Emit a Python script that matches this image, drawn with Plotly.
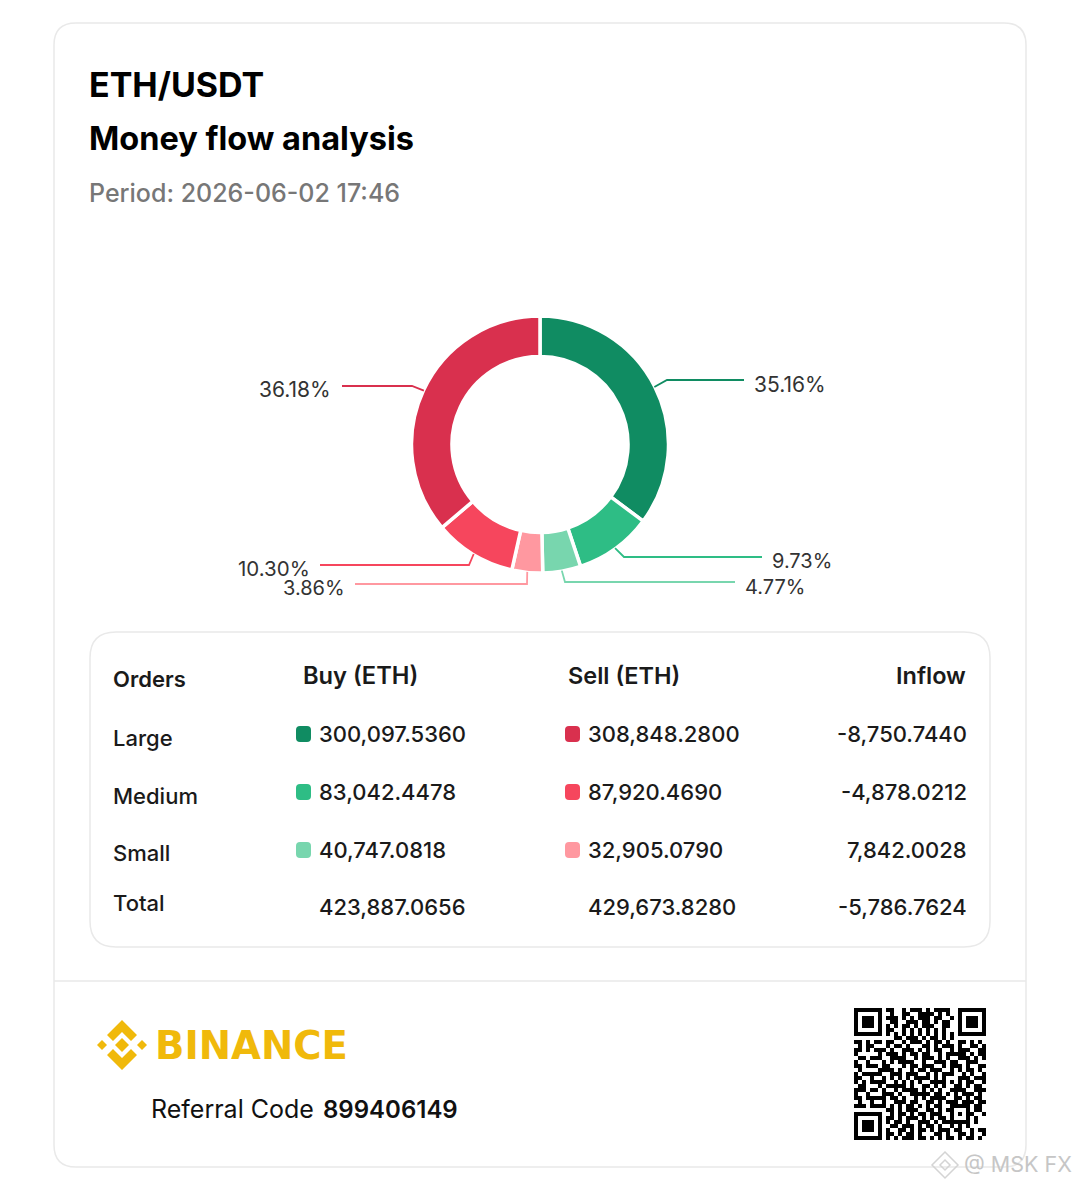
import math
import plotly.graph_objects as go

W, H = 1080, 1190
FONT = 'Inter'

sizes = ['Large', 'Medium', 'Small']
buy_values = [300097.5360, 83042.4478, 40747.0818]
sell_values = [308848.2800, 87920.4690, 32905.0790]
inflow_values = [-8750.7440, -4878.0212, 7842.0028]
buy_total = 423887.0656
sell_total = 429673.8280
inflow_total = -5786.7624

buy_colors = ['#108C62', '#2EBD85', '#78D6AE']
sell_colors = ['#D9304E', '#F6465D', '#FF98A0']

# pie runs clockwise from 12 o'clock
pie_labels = ['Large buy', 'Medium buy', 'Small buy', 'Small sell', 'Medium sell', 'Large sell']
pie_values = buy_values + sell_values[::-1]
pie_colors = buy_colors + sell_colors[::-1]
pie_text = ['35.16%', '9.73%', '4.77%', '3.86%', '10.30%', '36.18%']

# scanned from the picture, 33x33 modules
qr_rows = [
    '#######.##..#.###.#.####..#######',
    '#.....#..#..##..####.#.#..#.....#',
    '#.###.#.###.#.#.###.##..#.#.###.#',
    '#.###.#..##..###.##.#.##..#.###.#',
    '#.###.#.#.#.##.#.###..##..#.###.#',
    '#.....#.##..#.#.#.#.#.#...#.....#',
    '#######.#.#.#.#.#.#.#.#.#.#######',
    '..........##.###.#.##.#.#........',
    '##.#.##.##..#.###.#.##.#..##.#.#.',
    '.#.##...#.##.#...##.#.###.#..##.#',
    '##.#.###.#..###.#.#.##..#.###..##',
    '#.....#.###.#.##.##..#.#####.#.##',
    '.##.###..####..#.###.#.#..###.#.#',
    '#..#...#.#.####..#..###.##..###..',
    '##.###.##...#.##.###..#.###.#..##',
    '.#....####.#..#.##.###..#.#.##.#.',
    '#.#####..###.###..#.#.###..#.#..#',
    '##..#..#.#.#.#.####.#.#...###.###',
    '#.#.####..#.#.#.#..####.#.#.##..#',
    '.##...#.#####.#..##.#.#..##.#.##.',
    '###.##.#..#.####.#.#.#..####..###',
    '#..#...###.#..#####.##.#.#.###.#.',
    '##.#####.##.#..#.#.####..##.#.##.',
    '.#..#..#..###.##..##.#.###.###.##',
    '###.####.#.#.##.#.#.##..#####.##.',
    '........##.#.###..##.#.##...#.##.',
    '#######..#.##.#.##.###..#.#.##..#',
    '#.....#.##.#.###.#.#.##.#...#.#..',
    '#.###.#.#.##.#..###.#.#######.#..',
    '#.###.#..##.###.#.##.#..#.#.#....',
    '#.###.#.#..##.#.##.#.###.##..#.##',
    '#.....#.##.#.##.#...##.#..##.#..#',
    '#######.#.#.###.##.#.#.##.#.##.#.',
]


def fx(px):
    return px / W


def fy(py):
    return 1 - py / H


def round_rect(x0, y0, x1, y1, r):
    pts = [
        f'M {fx(x0 + r)} {fy(y0)}', f'L {fx(x1 - r)} {fy(y0)}',
        f'Q {fx(x1)} {fy(y0)} {fx(x1)} {fy(y0 + r)}', f'L {fx(x1)} {fy(y1 - r)}',
        f'Q {fx(x1)} {fy(y1)} {fx(x1 - r)} {fy(y1)}', f'L {fx(x0 + r)} {fy(y1)}',
        f'Q {fx(x0)} {fy(y1)} {fx(x0)} {fy(y1 - r)}', f'L {fx(x0)} {fy(y0 + r)}',
        f'Q {fx(x0)} {fy(y0)} {fx(x0 + r)} {fy(y0)}', 'Z',
    ]
    return ' '.join(pts)


def poly(points):
    return 'M ' + ' L '.join(f'{fx(a)} {fy(b)}' for a, b in points) + ' Z'


def add_text(txt, x, y, size, color='#1a1a1a', anchor='left', weight=400, family=FONT):
    fig.add_annotation(text=txt, x=fx(x), y=fy(y), xref='paper', yref='paper', showarrow=False,
                       xanchor=anchor, yanchor='middle', align=anchor, borderpad=0, borderwidth=0,
                       font=dict(family=family, size=size, color=color, weight=weight))


fig = go.Figure()

cx, cy, ring_r = 540, 444.5, 128.5
fig.add_trace(go.Pie(labels=pie_labels, values=pie_values, hole=0.685, sort=False,
                     direction='clockwise', rotation=0, textinfo='none',
                     marker=dict(colors=pie_colors, line=dict(color='white', width=3.5)),
                     domain=dict(x=[fx(cx - ring_r), fx(cx + ring_r)],
                                 y=[fy(cy + ring_r), fy(cy - ring_r)]),
                     showlegend=False))

qr_z = [[1 if c == '#' else 0 for c in row] for row in qr_rows]
fig.add_trace(go.Heatmap(z=qr_z, colorscale=[[0, 'white'], [1, 'black']], showscale=False,
                         xaxis='x', yaxis='y', hoverinfo='skip'))

# card, table box, divider
fig.add_shape(type='path', path=round_rect(54, 23, 1026, 1167, 22), xref='paper', yref='paper',
              line=dict(color='#E9E9E9', width=1.5), fillcolor='white', layer='below')
fig.add_shape(type='path', path=round_rect(90, 632, 990, 947, 26), xref='paper', yref='paper',
              line=dict(color='#E9E9E9', width=1.5), fillcolor='white', layer='below')
fig.add_shape(type='line', x0=fx(54), x1=fx(1026), y0=fy(981), y1=fy(981), xref='paper', yref='paper',
              line=dict(color='#E9E9E9', width=1.5), layer='below')

add_text('ETH/USDT', 89, 85, 34, '#000000', weight=700)
add_text('Money flow analysis', 89, 138, 32.5, '#000000', weight=700)
add_text('Period: 2026-06-02 17:46', 89, 193, 25, '#777777', weight=500)

# leader lines start on the ring at each slice's mid angle
elbows = [(667, 380), (624, 557), (565, 582), (527, 584), (469, 565), (412, 386)]
line_ends = [(744, 380), (762, 557), (735, 582), (355, 584), (320, 565), (342, 386)]
label_pos = [(754, 385, 'left'), (772, 561, 'left'), (745, 587, 'left'),
             (345, 588, 'right'), (310, 568, 'right'), (331, 390, 'right')]
label_size = [21, 20, 20, 20, 20.5, 21]
total = sum(pie_values)
acc = 0
for i, v in enumerate(pie_values):
    ang = 2 * math.pi * (acc + v / 2) / total
    acc += v
    ax, ay = cx + 128 * math.sin(ang), cy - 128 * math.cos(ang)
    ex, ey = elbows[i]
    lx, ly = line_ends[i]
    fig.add_shape(type='path', xref='paper', yref='paper',
                  path=f'M {fx(ax)} {fy(ay)} L {fx(ex)} {fy(ey)} L {fx(lx)} {fy(ly)}',
                  line=dict(color=pie_colors[i], width=1.8))
    tx, ty, anc = label_pos[i]
    add_text(pie_text[i], tx, ty, label_size[i], '#333333', anc)

# table
add_text('Orders', 113, 679, 22, weight=600)
add_text('Buy (ETH)', 303, 675, 23.7, weight=600)
add_text('Sell (ETH)', 568, 675, 23.5, weight=600)
add_text('Inflow', 966, 675, 23.5, anchor='right', weight=600)

row_label_y = [738, 796, 853]
row_value_y = [734, 792, 850]
for i, name in enumerate(sizes):
    add_text(name, 113, row_label_y[i], 22, weight=500)
    add_text(f'{buy_values[i]:,.4f}', 319, row_value_y[i], 22, weight=500)
    add_text(f'{sell_values[i]:,.4f}', 588, row_value_y[i], 22, weight=500)
    add_text(f'{inflow_values[i]:,.4f}', 967, row_value_y[i], 22, anchor='right', weight=500)
    sy = row_value_y[i]
    fig.add_shape(type='path', path=round_rect(296, sy - 8, 311, sy + 8, 4), xref='paper', yref='paper',
                  fillcolor=buy_colors[i], line=dict(width=0))
    fig.add_shape(type='path', path=round_rect(565, sy - 8, 580, sy + 8, 4), xref='paper', yref='paper',
                  fillcolor=sell_colors[i], line=dict(width=0))

add_text('Total', 113, 903, 22, weight=500)
add_text(f'{buy_total:,.4f}', 319, 907, 22, weight=500)
add_text(f'{sell_total:,.4f}', 588, 907, 22, weight=500)
add_text(f'{inflow_total:,.4f}', 967, 907, 22, anchor='right', weight=500)

# binance logo
YEL = '#F0B90B'
logo = [
    [(122, 1038), (129, 1045), (122, 1052), (115, 1045)],
    [(102, 1040), (107, 1045), (102, 1050), (97, 1045)],
    [(142, 1040), (147, 1045), (142, 1050), (137, 1045)],
    [(122, 1020), (137, 1035), (131, 1041), (122, 1032), (113, 1041), (107, 1035)],
    [(122, 1070), (137, 1055), (131, 1049), (122, 1058), (113, 1049), (107, 1055)],
]
for pts in logo:
    fig.add_shape(type='path', path=poly(pts), xref='paper', yref='paper', fillcolor=YEL, line=dict(width=0))
add_text('BINANCE', 155, 1045, 38.6, YEL, weight=700, family='DejaVu Sans')
add_text('Referral Code', 151, 1109, 25, '#111111', weight=400)
add_text('899406149', 323, 1109, 24, '#111111', weight=600)

# watermark
fig.add_shape(type='path', path=poly([(945, 1152), (958, 1165), (945, 1178), (932, 1165)]),
              xref='paper', yref='paper', line=dict(color='#D4D4D4', width=1.5))
fig.add_shape(type='path', path=poly([(945, 1160), (950, 1165), (945, 1170), (940, 1165)]),
              xref='paper', yref='paper', line=dict(color='#D4D4D4', width=1.5))
add_text('@ MSK FX', 964, 1164, 21.5, '#C6C6C6')

fig.update_layout(
    width=W, height=H, margin=dict(l=0, r=0, t=0, b=0),
    paper_bgcolor='white', plot_bgcolor='white',
    xaxis=dict(domain=[fx(854), fx(986)], visible=False, anchor='y'),
    yaxis=dict(domain=[fy(1140), fy(1008)], visible=False, autorange='reversed', anchor='x'),
)

fig.write_html("out.html", post_script="document.body.style.margin='0';",
               config=dict(displayModeBar=False))
